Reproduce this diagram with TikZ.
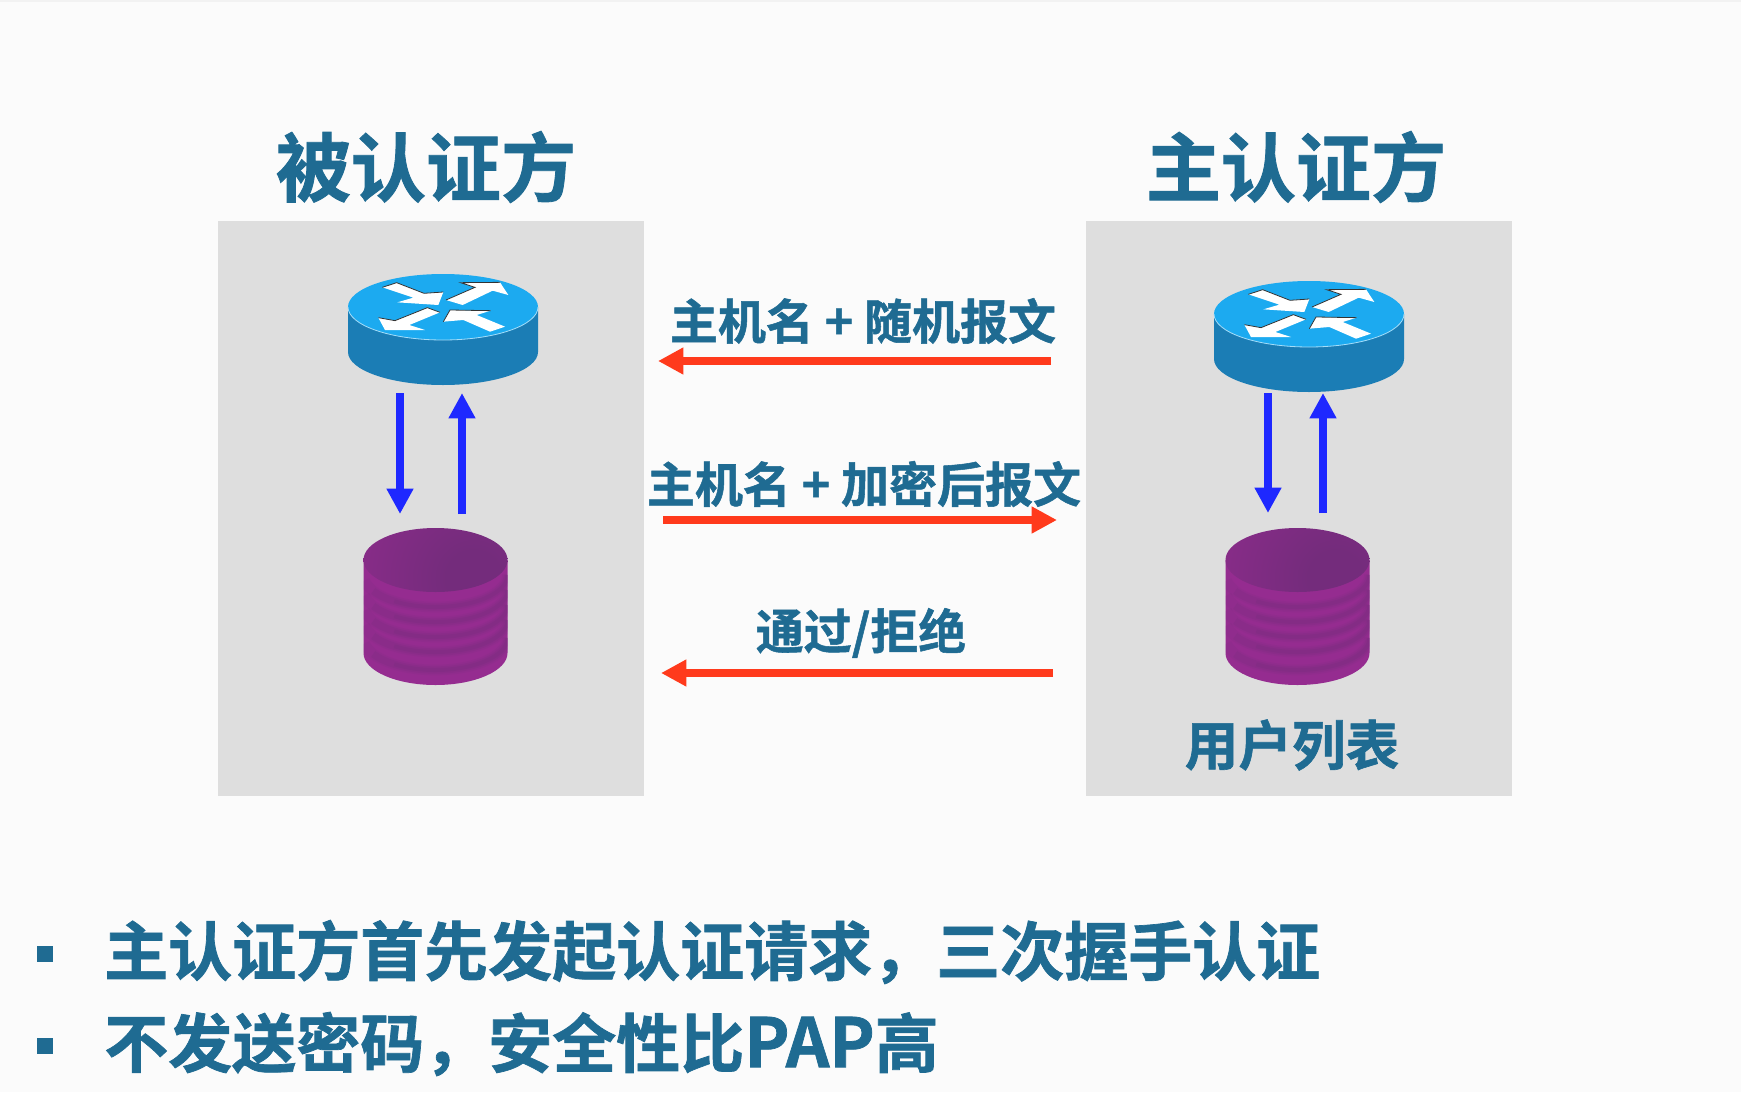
\documentclass[tikz,border=0pt]{standalone}
\usepackage{fontspec}
\setmainfont{Noto Sans CJK SC}[BoldFont={Noto Sans CJK SC Bold},BoldFeatures={FakeBold=1.1}]
\usetikzlibrary{arrows.meta}
\definecolor{bgc}{HTML}{FBFBFB}
\definecolor{panelc}{HTML}{DEDEDE}
\definecolor{txtc}{HTML}{1F6B92}
\definecolor{rtop}{HTML}{1CAAF0}
\definecolor{rside}{HTML}{1B7DB5}
\definecolor{redc}{HTML}{FF3A1C}
\definecolor{bluec}{HTML}{1E28FF}
\definecolor{purpA}{HTML}{952C90}
\definecolor{purpB}{HTML}{742C7C}
\pgfdeclareradialshading{dbtop}{\pgfpoint{0bp}{0bp}}{color(0bp)=(purpB); color(4bp)=(purpB); color(26bp)=(purpA); color(50bp)=(purpA)}
\tikzset{
  x=0.75pt,y=-0.75pt,
  panel/.style={fill=panelc,draw=none,minimum width=426*0.75pt,minimum height=575*0.75pt,inner sep=0pt},
  lbl/.style={text=txtc,font=\bfseries\fontsize{36}{36}\selectfont,inner sep=0pt},
  title/.style={text=txtc,font=\bfseries\fontsize{56.3}{56}\selectfont,inner sep=0pt},
  bul/.style={text=txtc,font=\bfseries\fontsize{48}{48}\selectfont,inner sep=0pt,anchor=west},
  bulmark/.style={fill=txtc,minimum size=12pt,inner sep=0pt},
  redarrow/.style={draw=redc,line width=6.4pt,-{Triangle[length=19pt,width=19pt]}},
  bluearrow/.style={draw=bluec,line width=6.4pt,-{Triangle[length=19pt,width=19pt]}},
  whitearrow/.style={fill=white,draw=none},
  edgeline/.style={draw=black!80,line width=0.6pt},
}
\newcommand{\routerpic}[3]{%
  \begin{scope}[shift={(#1,#2)}]
    \fill[rside] (-95,0) -- (-95,45) arc[x radius=95,y radius=33,start angle=180,end angle=0] -- (95,0) -- cycle;
    \fill[rtop] (0,0) ellipse[x radius=95,y radius=33];
    \draw[white!60!rtop,line width=0.6pt] (-95,0) arc[x radius=95,y radius=33,start angle=180,end angle=0];
  \end{scope}
  \begin{scope}[shift={(#1-123,#2-57)},scale=1/3]
    \fill[whitearrow] (187,112)--(230,98)--(312,130)--(370,126)--(355,165)--(232,157)--(280,143)--cycle;
    \fill[whitearrow] (378,150)--(465,112)--(422,98)--(540,97)--(565,135)--(518,122)--(428,165)--cycle;
    \fill[whitearrow] (360,187)--(322,173)--(225,212)--(175,203)--(195,240)--(315,240)--(268,225)--cycle;
    \fill[whitearrow] (555,230)--(510,245)--(430,210)--(370,215)--(390,180)--(512,182)--(470,195)--cycle;
    \draw[edgeline] (187,112)--(230,98)--(312,130) (370,126)--(312,130);
    \draw[edgeline] (378,150)--(465,112)--(422,98)--(540,97);
    \draw[edgeline] (360,187)--(322,173)--(225,212)--(175,203);
    \draw[edgeline] (370,215)--(390,180)--(512,182);
  \end{scope}
}
\newcommand{\dbpic}[2]{%
  \begin{scope}[shift={(#1,#2)}]
    \fill[purpA] (-72,0) -- (-72,93) arc[x radius=72,y radius=32,start angle=180,end angle=0] -- (72,0) -- cycle;
    \begin{scope}
      \clip (-72,0) -- (-72,93) arc[x radius=72,y radius=32,start angle=180,end angle=0] -- (72,0) -- cycle;
      \foreach \yy in {78,60,45,30,15}{
        \foreach \lw/\op/\sa in {8pt/.14/170,5.5pt/.2/150,3pt/.25/125}{
          \draw[purpB,line width=\lw,opacity=\op] ([shift={(0,\yy)}]\sa:72 and 32) arc[x radius=72,y radius=32,start angle=\sa,end angle=0];
        }
      }
    \end{scope}
    \begin{scope}
      \clip (0,0) ellipse[x radius=72,y radius=32];
      \shade[shading=dbtop] (38,18) circle[radius=170];
    \end{scope}
  \end{scope}
}
\begin{document}
\begin{tikzpicture}
\useasboundingbox (0,0) rectangle (1741,1092);
\fill[bgc] (0,0) rectangle (1741,1092);
\fill[black!5] (0,0) rectangle (1741,1.5);
\node[panel,anchor=north west] (left) at (218,221) {};
\node[panel,anchor=north west] (right) at (1086,221) {};
\node[title] (t1) at (426,167) {被认证方};
\node[title] (t2) at (1296,167) {主认证方};
\routerpic{443}{307}{r1}
\routerpic{1309}{314}{r2}
\dbpic{435.5}{560}
\dbpic{1297.5}{560}
\coordinate (a1s) at (400,393); \coordinate (a1e) at (400,514);
\coordinate (a2s) at (462,514); \coordinate (a2e) at (462,393);
\coordinate (a3s) at (1268,393); \coordinate (a3e) at (1268,513);
\coordinate (a4s) at (1323,513); \coordinate (a4e) at (1323,393);
\foreach \p/\q in {a1s/a1e,a2s/a2e,a3s/a3e,a4s/a4e}{\draw[bluearrow] (\p) -- (\q);}
\node[lbl] (l1) at (863,321) {主机名 + 随机报文};
\node[lbl] (l2) at (864,484) {主机名 + 加密后报文};
\node[lbl] (l3) at (861,633) {通过/拒绝};
\coordinate (r1s) at (1051,361); \coordinate (r1e) at (658,361);
\coordinate (r2s) at (663,520); \coordinate (r2e) at (1057,520);
\coordinate (r3s) at (1053,673); \coordinate (r3e) at (661,673);
\foreach \p/\q in {r1s/r1e,r2s/r2e,r3s/r3e}{\draw[redarrow] (\p) -- (\q);}
\node[text=txtc,font=\bfseries\fontsize{40.2}{40}\selectfont,inner sep=0pt] (ul) at (1292,745) {用户列表};
\node[bulmark] (b1) at (45,953.5) {};
\node[bulmark] (b2) at (45,1045.5) {};
\node[bul] (bt1) at (104,952) {主认证方首先发起认证请求，三次握手认证};
\node[bul] (bt2) at (104,1044) {不发送密码，安全性比{\fontsize{51}{48}\selectfont PAP}高};
\end{tikzpicture}
\end{document}
